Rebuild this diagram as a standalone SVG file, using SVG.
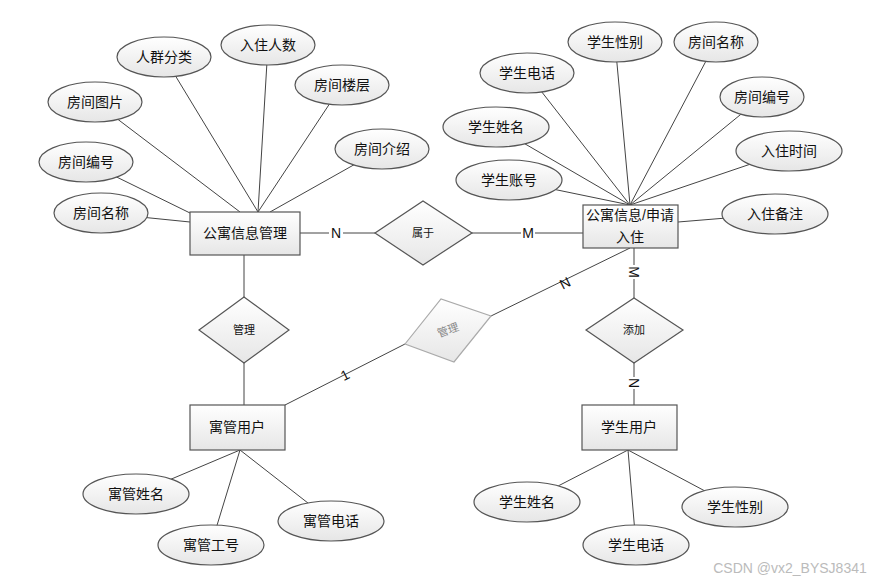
<svg xmlns="http://www.w3.org/2000/svg" width="881" height="583" viewBox="0 0 881 583">
<defs>
<linearGradient id="g" x1="0" y1="0" x2="0" y2="1"><stop offset="0" stop-color="#ffffff"/><stop offset="1" stop-color="#e6e6e6"/></linearGradient>
<style>
.s{fill:url(#g);stroke:#555;stroke-width:1.2}
.t{font-family:"Liberation Sans","Noto Sans CJK SC",sans-serif;font-size:14px;fill:#111;text-anchor:middle;dominant-baseline:central}
.sm{font-size:11px}
.l{stroke:#444;stroke-width:1;fill:none}
</style>
</defs>
<rect width="881" height="583" fill="#fff"/>
<g id="connectors">
<path class="l" d="M164,57L258,212M268,45L258,212M342,85L258,212M95,102L240,212M382,149L270,212M86,162L190,213M101,213L190,222"/>
<path class="l" d="M615,42L630,205M716,42L630,205M527,73L630,205M762,97L630,205M496,127L630,205M789,151L630,205M509,180L630,205M775,214L678,222"/>
<path class="l" d="M136,494L240,450M211,545L240,450M331,521L240,450M527,502L628,450M636,545L628,450M735,507L628,450"/>
<path class="l" d="M300,233H375M472,233H583M244,255V297M244,363V405M634,248V298M634,363V405M285,405L405,344M491,316L630,248"/>
<g class="t" font-family="Liberation Sans" font-size="13" text-anchor="middle" dominant-baseline="central">
<rect x="329" y="226" width="14" height="14" fill="#fff"/><text x="336" y="233" class="t">N</text>
<rect x="521" y="226" width="14" height="14" fill="#fff"/><text x="528" y="233" class="t">M</text>
<rect x="627" y="265" width="14" height="14" fill="#fff"/><text x="634" y="272" class="t" transform="rotate(90 634 272)">M</text>
<rect x="627" y="377" width="14" height="12" fill="#fff"/><text x="634" y="383" class="t" transform="rotate(90 634 383)">N</text>
<text x="345" y="375" class="t" transform="rotate(-27 345 375)">1</text>
<text x="565" y="283" class="t" transform="rotate(-27 565 283)">N</text>
</g>
</g>
<g id="ellipses">
<g id="e1"><ellipse class="s" cx="164" cy="57" rx="47" ry="20"/><text class="t" x="164" y="57">人群分类</text></g>
<g id="e2"><ellipse class="s" cx="268" cy="45" rx="47" ry="20"/><text class="t" x="268" y="45">入住人数</text></g>
<g id="e3"><ellipse class="s" cx="342" cy="85" rx="47" ry="20"/><text class="t" x="342" y="85">房间楼层</text></g>
<g id="e4"><ellipse class="s" cx="95" cy="102" rx="47" ry="20"/><text class="t" x="95" y="102">房间图片</text></g>
<g id="e5"><ellipse class="s" cx="382" cy="149" rx="47" ry="20"/><text class="t" x="382" y="149">房间介绍</text></g>
<g id="e6"><ellipse class="s" cx="86" cy="162" rx="47" ry="20"/><text class="t" x="86" y="162">房间编号</text></g>
<g id="e7"><ellipse class="s" cx="101" cy="213" rx="47" ry="20"/><text class="t" x="101" y="213">房间名称</text></g>
<g id="e8"><ellipse class="s" cx="615" cy="42" rx="47" ry="20"/><text class="t" x="615" y="42">学生性别</text></g>
<g id="e9"><ellipse class="s" cx="716" cy="42" rx="42" ry="20"/><text class="t" x="716" y="42">房间名称</text></g>
<g id="e10"><ellipse class="s" cx="527" cy="73" rx="47" ry="20"/><text class="t" x="527" y="73">学生电话</text></g>
<g id="e11"><ellipse class="s" cx="762" cy="97" rx="42" ry="20"/><text class="t" x="762" y="97">房间编号</text></g>
<g id="e12"><ellipse class="s" cx="496" cy="127" rx="53" ry="20"/><text class="t" x="496" y="127">学生姓名</text></g>
<g id="e13"><ellipse class="s" cx="789" cy="151" rx="53" ry="20"/><text class="t" x="789" y="151">入住时间</text></g>
<g id="e14"><ellipse class="s" cx="509" cy="180" rx="53" ry="20"/><text class="t" x="509" y="180">学生账号</text></g>
<g id="e15"><ellipse class="s" cx="775" cy="214" rx="53" ry="20"/><text class="t" x="775" y="214">入住备注</text></g>
<g id="e16"><ellipse class="s" cx="136" cy="494" rx="53" ry="20"/><text class="t" x="136" y="494">寓管姓名</text></g>
<g id="e17"><ellipse class="s" cx="211" cy="545" rx="53" ry="20"/><text class="t" x="211" y="545">寓管工号</text></g>
<g id="e18"><ellipse class="s" cx="331" cy="521" rx="53" ry="20"/><text class="t" x="331" y="521">寓管电话</text></g>
<g id="e19"><ellipse class="s" cx="527" cy="502" rx="53" ry="20"/><text class="t" x="527" y="502">学生姓名</text></g>
<g id="e20"><ellipse class="s" cx="636" cy="545" rx="53" ry="20"/><text class="t" x="636" y="545">学生电话</text></g>
<g id="e21"><ellipse class="s" cx="735" cy="507" rx="53" ry="20"/><text class="t" x="735" y="507">学生性别</text></g>
</g>
<g id="entities">
<g id="apt"><rect class="s" x="190" y="212" width="110" height="43"/><text class="t" x="245" y="233">公寓信息管理</text></g>
<g id="apply"><rect class="s" x="583" y="205" width="95" height="43"/><text class="t" x="630" y="215">公寓信息/申请</text><text class="t" x="630" y="237">入住</text></g>
<g id="mgr"><rect class="s" x="190" y="405" width="95" height="45"/><text class="t" x="237" y="427">寓管用户</text></g>
<g id="stu"><rect class="s" x="582" y="405" width="95" height="45"/><text class="t" x="629" y="427">学生用户</text></g>
</g>
<g id="relations">
<g id="r1"><polygon class="s" points="375,233 423,201 472,233 423,265"/><text class="t sm" x="423" y="233">属于</text></g>
<g id="r2"><polygon class="s" points="199,330 244,297 289,330 244,363"/><text class="t sm" x="244" y="330">管理</text></g>
<g id="r3"><polygon class="s" points="586,330 634,298 683,330 634,363"/><text class="t sm" x="634" y="330">添加</text></g>
<g id="r4"><polygon class="s" stroke="#999" points="405,344 441,299 491,316 454,362" style="stroke:#aaa"/><text class="t sm" x="448" y="330" fill="#888" style="fill:#888" transform="rotate(-20 448 330)">管理</text></g>
</g>
<text x="790" y="568" font-family="Liberation Sans,sans-serif" font-size="14" fill="#bbb" text-anchor="middle" dominant-baseline="central">CSDN @vx2_BYSJ8341</text>
</svg>
